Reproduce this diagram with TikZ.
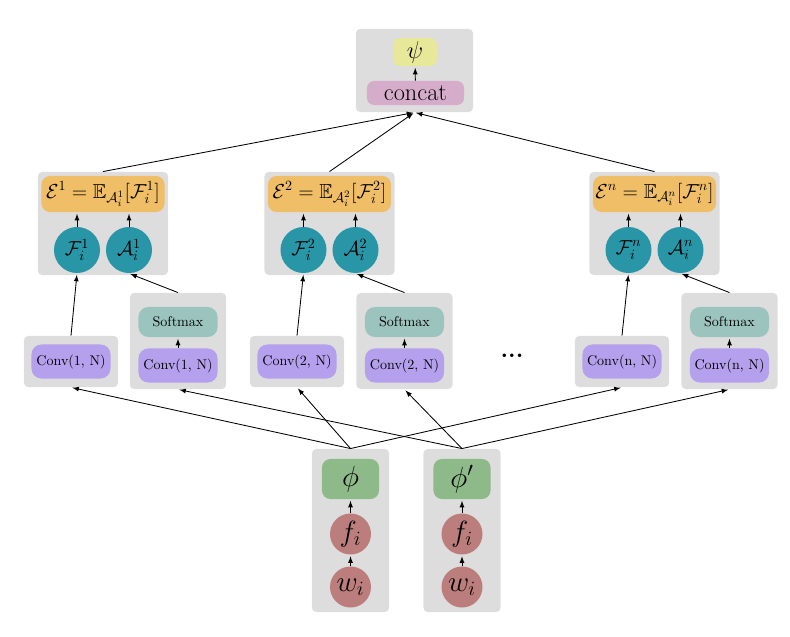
\documentclass[tikz,border=0pt]{standalone}
\usepackage{amsmath}
\usepackage{amssymb}
\usetikzlibrary{arrows,shapes,positioning}

\definecolor{panelgray}{RGB}{221,221,221}
\definecolor{psiyellow}{RGB}{232,232,154}
\definecolor{catpink}{RGB}{214,172,203}
\definecolor{exporange}{RGB}{240,190,102}
\definecolor{featteal}{RGB}{40,150,166}
\definecolor{softteal}{RGB}{156,196,190}
\definecolor{convpurple}{RGB}{180,160,236}
\definecolor{embgreen}{RGB}{141,186,136}
\definecolor{inred}{RGB}{188,126,124}

\begin{document}
\begin{tikzpicture}[x=0.025cm, y=-0.025cm, >=latex, shorten >=1pt, semithick,
  panel/.style={rectangle, fill=panelgray, rounded corners=3pt, inner sep=0pt},
  outbox/.style={rectangle, fill=psiyellow, rounded corners=5pt, inner sep=1pt, minimum width=1.1cm, minimum height=0.7cm, font=\LARGE},
  catbox/.style={rectangle, fill=catpink, rounded corners=5pt, inner sep=1pt, minimum width=2.425cm, minimum height=0.6cm, font=\LARGE},
  expbox/.style={rectangle, fill=exporange, rounded corners=6pt, inner sep=1pt, minimum width=3.075cm, minimum height=0.9cm, font=\Large},
  featnode/.style={circle, fill=featteal, inner sep=0pt, minimum size=1.15cm, font=\Large},
  convbox/.style={rectangle, fill=convpurple, rounded corners=7pt, inner sep=1pt, minimum width=1.975cm, minimum height=0.85cm},
  softbox/.style={rectangle, fill=softteal, rounded corners=7pt, inner sep=1pt, minimum width=1.975cm, minimum height=0.75cm},
  embbox/.style={rectangle, fill=embgreen, rounded corners=6pt, inner sep=1pt, minimum width=1.425cm, minimum height=1cm, font=\huge},
  inputnode/.style={circle, fill=inred, inner sep=0pt, minimum size=1.025cm, font=\huge}]
\useasboundingbox (0,0) rectangle (790,637);

% output
\node[panel, minimum width=2.925cm, minimum height=2.075cm] (topg) at (414.5,70.5) {};
\node[outbox] (psi) at (415,52) {$\psi$};
\node[catbox] (cat) at (415.5,93) {concat};

% expectations
\node[panel, minimum width=3.25cm, minimum height=2.575cm] (E1g) at (103,223.5) {};
\node[panel, minimum width=3.25cm, minimum height=2.575cm] (E2g) at (329.5,223.5) {};
\node[panel, minimum width=3.25cm, minimum height=2.575cm] (Eng) at (654.5,223.5) {};
\node[expbox] (E1) at (103,194) {$\mathcal{E}^1 = \mathbb{E}_{\mathcal{A}_i^1}[\mathcal{F}_i^1]$};
\node[expbox] (E2) at (329.5,194) {$\mathcal{E}^2 = \mathbb{E}_{\mathcal{A}_i^2}[\mathcal{F}_i^2]$};
\node[expbox] (En) at (654.5,194) {$\mathcal{E}^n = \mathbb{E}_{\mathcal{A}_i^n}[\mathcal{F}_i^n]$};
\node[featnode] (F1) at (77,250) {$\mathcal{F}_i^1$};
\node[featnode] (A1) at (129,250) {$\mathcal{A}_i^1$};
\node[featnode] (F2) at (303.5,250) {$\mathcal{F}_i^2$};
\node[featnode] (A2) at (355.5,250) {$\mathcal{A}_i^2$};
\node[featnode] (Fn) at (628.5,250) {$\mathcal{F}_i^n$};
\node[featnode] (An) at (680.5,250) {$\mathcal{A}_i^n$};

% convolutions
\node[panel, minimum width=2.35cm, minimum height=1.275cm] (c1g) at (71,361.5) {};
\node[panel, minimum width=2.35cm, minimum height=1.275cm] (c2g) at (297,361.5) {};
\node[panel, minimum width=2.35cm, minimum height=1.275cm] (cng) at (622,361.5) {};
\node[convbox] (c1) at (71,361.5) {Conv(1, N)};
\node[convbox] (c2) at (297,361.5) {Conv(2, N)};
\node[convbox] (cn) at (622,361.5) {Conv(n, N)};
\node[panel, minimum width=2.4cm, minimum height=2.4cm] (s1g) at (178,341) {};
\node[panel, minimum width=2.4cm, minimum height=2.4cm] (s2g) at (404.5,341) {};
\node[panel, minimum width=2.4cm, minimum height=2.4cm] (sng) at (729.5,341) {};
\node[softbox] (s1) at (178,322) {Softmax};
\node[softbox] (s2) at (404.5,322) {Softmax};
\node[softbox] (sn) at (729.5,322) {Softmax};
\node[convbox] (a1) at (178,365.5) {Conv(1, N)};
\node[convbox] (a2) at (404.5,365.5) {Conv(2, N)};
\node[convbox] (an) at (729.5,365.5) {Conv(n, N)};
\node[font=\LARGE\bfseries] (dots) at (512,356) {...};

% inputs
\node[panel, minimum width=1.925cm, minimum height=4.075cm] (phig) at (350.5,530.5) {};
\node[panel, minimum width=1.925cm, minimum height=4.075cm] (phipg) at (462,530.5) {};
\node[embbox] (phi) at (350.5,479) {$\phi$};
\node[embbox] (phip) at (462,479) {$\phi'$};
\node[inputnode] (f) at (350.5,534) {$f_i$};
\node[inputnode] (fp) at (462,534) {$f_i$};
\node[inputnode] (w) at (350.5,587) {$w_i$};
\node[inputnode] (wp) at (462,587) {$w_i$};

\path[->]
  (w) edge (f)
  (f) edge (phi)
  (wp) edge (fp)
  (fp) edge (phip)
  (phig.north) edge (c1g.south)
               edge (c2g.south)
               edge (cng.south)
  (phipg.north) edge (s1g.south)
                edge (s2g.south)
                edge (sng.south)
  (a1) edge (s1)
  (a2) edge (s2)
  (an) edge (sn)
  (c1g.north) edge (F1.south)
  (c2g.north) edge (F2.south)
  (cng.north) edge (Fn.south)
  (s1g.north) edge (A1.south)
  (s2g.north) edge (A2.south)
  (sng.north) edge (An.south)
  (F1) edge (F1 |- E1.south)
  (A1) edge (A1 |- E1.south)
  (F2) edge (F2 |- E2.south)
  (A2) edge (A2 |- E2.south)
  (Fn) edge (Fn |- En.south)
  (An) edge (An |- En.south)
  (E1g.north) edge (topg.south)
  (E2g.north) edge (topg.south)
  (Eng.north) edge (topg.south)
  (cat) edge (psi);
\end{tikzpicture}
\end{document}
